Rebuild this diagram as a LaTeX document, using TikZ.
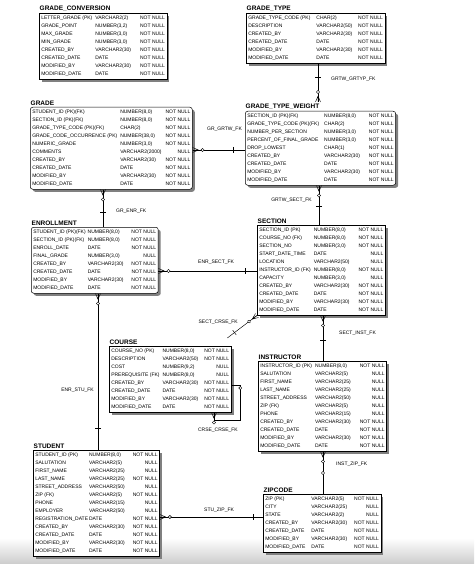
\documentclass[tikz,border=0pt]{standalone}
\usepackage{fontspec}
\setmainfont{Liberation Sans}
\usetikzlibrary{shadows, calc, positioning}

\tikzset{
  erbox/.style={draw, fill=white, line width=0.5pt, anchor=north west,
    inner xsep=2pt, inner ysep=1pt, font=\fontsize{5}{8}\selectfont,
    drop shadow={shadow xshift=2.5pt, shadow yshift=-2.5pt, fill=black!50, opacity=1}},
  dependent/.style={erbox, rounded corners=2.5pt},
  ertitle/.style={anchor=south west, inner sep=0.5pt, yshift=1pt,
    font=\fontsize{6.5}{7}\selectfont\bfseries},
  fklabel/.style={inner sep=1pt, font=\fontsize{5}{6}\selectfont},
  rel/.style={line width=0.45pt},
  alongline/.style={sloped, allow upside down},
  pics/crowsfoot/.style={code={
    \draw[rel] (6,0) -- (0,-2.5) (6,0) -- (0,0) (6,0) -- (0,2.5);
    \draw[rel, fill=white] (10,0) circle (1.6);}},
  pics/onebar/.style={code={\draw[rel] (-#1,-3) -- (-#1,3);}},
  pics/parentring/.style={code={\draw[rel, fill=white] (-#1,0) circle (1.6);}},
}

\begin{document}
\begin{tikzpicture}[x=1pt, y=-1pt]
        \useasboundingbox (0,0) rectangle (474,564);
        \shade[top color=white, bottom color=black!20] (0,538) rectangle (474,564);

        % Tables of the schema

        \node[erbox] (gradeconv) at (39,13) {\begin{tabular}{@{}l@{\hspace{3pt}}l@{\hspace{9pt}}r@{}}
          LETTER\_GRADE (PK) & VARCHAR2(2) & NOT NULL\\
          GRADE\_POINT & NUMBER(3,2) & NOT NULL\\
          MAX\_GRADE & NUMBER(3,0) & NOT NULL\\
          MIN\_GRADE & NUMBER(3,0) & NOT NULL\\
          CREATED\_BY & VARCHAR2(30) & NOT NULL\\
          CREATED\_DATE & DATE & NOT NULL\\
          MODIFIED\_BY & VARCHAR2(30) & NOT NULL\\
          MODIFIED\_DATE & DATE & NOT NULL
        \end{tabular}};
        \node[ertitle] (gradeconvtitle) at (gradeconv.north west) {GRADE\_CONVERSION};

        \node[erbox] (gradetype) at (246,13) {\begin{tabular}{@{}l@{\hspace{6pt}}l@{\hspace{6pt}}r@{}}
          GRADE\_TYPE\_CODE (PK) & CHAR(2) & NOT NULL\\
          DESCRIPTION & VARCHAR2(50) & NOT NULL\\
          CREATED\_BY & VARCHAR2(30) & NOT NULL\\
          CREATED\_DATE & DATE & NOT NULL\\
          MODIFIED\_BY & VARCHAR2(30) & NOT NULL\\
          MODIFIED\_DATE & DATE & NOT NULL
        \end{tabular}};
        \node[ertitle] (gradetypetitle) at (gradetype.north west) {GRADE\_TYPE};

        \node[dependent] (grade) at (30,107) {\begin{tabular}{@{}l@{\hspace{3pt}}l@{\hspace{4pt}}r@{}}
          STUDENT\_ID (PK)(FK) & NUMBER(8,0) & NOT NULL\\
          SECTION\_ID (PK)(FK) & NUMBER(8,0) & NOT NULL\\
          GRADE\_TYPE\_CODE (PK)(FK) & CHAR(2) & NOT NULL\\
          GRADE\_CODE\_OCCURRENCE (PK) & NUMBER(38,0) & NOT NULL\\
          NUMERIC\_GRADE & NUMBER(3,0) & NOT NULL\\
          COMMENTS & VARCHAR2(2000) & NULL\\
          CREATED\_BY & VARCHAR2(30) & NOT NULL\\
          CREATED\_DATE & DATE & NOT NULL\\
          MODIFIED\_BY & VARCHAR2(30) & NOT NULL\\
          MODIFIED\_DATE & DATE & NOT NULL
        \end{tabular}};
        \node[ertitle] (gradetitle) at (grade.north west) {GRADE};

        \node[dependent] (gtw) at (245,111) {\begin{tabular}{@{}l@{\hspace{5pt}}l@{\hspace{9pt}}r@{}}
          SECTION\_ID (PK)(FK) & NUMBER(8,0) & NOT NULL\\
          GRADE\_TYPE\_CODE (PK)(FK) & CHAR(2) & NOT NULL\\
          NUMBER\_PER\_SECTION & NUMBER(3,0) & NOT NULL\\
          PERCENT\_OF\_FINAL\_GRADE & NUMBER(3,0) & NOT NULL\\
          DROP\_LOWEST & CHAR(1) & NOT NULL\\
          CREATED\_BY & VARCHAR2(30) & NOT NULL\\
          CREATED\_DATE & DATE & NOT NULL\\
          MODIFIED\_BY & VARCHAR2(30) & NOT NULL\\
          MODIFIED\_DATE & DATE & NOT NULL
        \end{tabular}};
        \node[ertitle] (gtwtitle) at (gtw.north west) {GRADE\_TYPE\_WEIGHT};

        \node[dependent] (enrollment) at (31,227) {\begin{tabular}{@{}l@{\hspace{2pt}}l@{\hspace{8pt}}r@{}}
          STUDENT\_ID (PK)(FK) & NUMBER(8,0) & NOT NULL\\
          SECTION\_ID (PK)(FK) & NUMBER(8,0) & NOT NULL\\
          ENROLL\_DATE & DATE & NOT NULL\\
          FINAL\_GRADE & NUMBER(3,0) & NULL\\
          CREATED\_BY & VARCHAR2(30) & NOT NULL\\
          CREATED\_DATE & DATE & NOT NULL\\
          MODIFIED\_BY & VARCHAR2(30) & NOT NULL\\
          MODIFIED\_DATE & DATE & NOT NULL
        \end{tabular}};
        \node[ertitle] (enrollmenttitle) at (enrollment.north west) {ENROLLMENT};

        \node[erbox] (section) at (257,225) {\begin{tabular}{@{}l@{\hspace{3pt}}l@{\hspace{9pt}}r@{}}
          SECTION\_ID (PK) & NUMBER(8,0) & NOT NULL\\
          COURSE\_NO (FK) & NUMBER(8,0) & NOT NULL\\
          SECTION\_NO & NUMBER(3,0) & NOT NULL\\
          START\_DATE\_TIME & DATE & NULL\\
          LOCATION & VARCHAR2(50) & NULL\\
          INSTRUCTOR\_ID (FK) & NUMBER(8,0) & NOT NULL\\
          CAPACITY & NUMBER(3,0) & NULL\\
          CREATED\_BY & VARCHAR2(30) & NOT NULL\\
          CREATED\_DATE & DATE & NOT NULL\\
          MODIFIED\_BY & VARCHAR2(30) & NOT NULL\\
          MODIFIED\_DATE & DATE & NOT NULL
        \end{tabular}};
        \node[ertitle] (sectiontitle) at (section.north west) {SECTION};

        \node[erbox] (course) at (109,346) {\begin{tabular}{@{}l@{\hspace{3pt}}l@{\hspace{6pt}}r@{}}
          COURSE\_NO (PK) & NUMBER(8,0) & NOT NULL\\
          DESCRIPTION & VARCHAR2(50) & NOT NULL\\
          COST & NUMBER(9,2) & NULL\\
          PREREQUISITE (FK) & NUMBER(8,0) & NULL\\
          CREATED\_BY & VARCHAR2(30) & NOT NULL\\
          CREATED\_DATE & DATE & NOT NULL\\
          MODIFIED\_BY & VARCHAR2(30) & NOT NULL\\
          MODIFIED\_DATE & DATE & NOT NULL
        \end{tabular}};
        \node[ertitle] (coursetitle) at (course.north west) {COURSE};

        \node[erbox] (instructor) at (258,361) {\begin{tabular}{@{}l@{\hspace{3pt}}l@{\hspace{9pt}}r@{}}
          INSTRUCTOR\_ID (PK) & NUMBER(8,0) & NOT NULL\\
          SALUTATION & VARCHAR2(5) & NULL\\
          FIRST\_NAME & VARCHAR2(25) & NULL\\
          LAST\_NAME & VARCHAR2(25) & NULL\\
          STREET\_ADDRESS & VARCHAR2(50) & NULL\\
          ZIP (FK) & VARCHAR2(5) & NULL\\
          PHONE & VARCHAR2(15) & NULL\\
          CREATED\_BY & VARCHAR2(30) & NOT NULL\\
          CREATED\_DATE & DATE & NOT NULL\\
          MODIFIED\_BY & VARCHAR2(30) & NOT NULL\\
          MODIFIED\_DATE & DATE & NOT NULL
        \end{tabular}};
        \node[ertitle] (instructortitle) at (instructor.north west) {INSTRUCTOR};

        \node[erbox] (student) at (33,450) {\begin{tabular}{@{}l@{\hspace{1pt}}l@{\hspace{8pt}}r@{}}
          STUDENT\_ID (PK) & NUMBER(8,0) & NOT NULL\\
          SALUTATION & VARCHAR2(5) & NULL\\
          FIRST\_NAME & VARCHAR2(25) & NULL\\
          LAST\_NAME & VARCHAR2(25) & NOT NULL\\
          STREET\_ADDRESS & VARCHAR2(50) & NULL\\
          ZIP (FK) & VARCHAR2(5) & NOT NULL\\
          PHONE & VARCHAR2(15) & NULL\\
          EMPLOYER & VARCHAR2(50) & NULL\\
          REGISTRATION\_DATE & DATE & NOT NULL\\
          CREATED\_BY & VARCHAR2(30) & NOT NULL\\
          CREATED\_DATE & DATE & NOT NULL\\
          MODIFIED\_BY & VARCHAR2(30) & NOT NULL\\
          MODIFIED\_DATE & DATE & NOT NULL
        \end{tabular}};
        \node[ertitle] (studenttitle) at (student.north west) {STUDENT};

        \node[erbox] (zipcode) at (263,494) {\begin{tabular}{@{}l@{\hspace{6pt}}l@{\hspace{7pt}}r@{}}
          ZIP (PK) & VARCHAR2(5) & NOT NULL\\
          CITY & VARCHAR2(25) & NULL\\
          STATE & VARCHAR2(2) & NULL\\
          CREATED\_BY & VARCHAR2(30) & NOT NULL\\
          CREATED\_DATE & DATE & NOT NULL\\
          MODIFIED\_BY & VARCHAR2(30) & NOT NULL\\
          MODIFIED\_DATE & DATE & NOT NULL
        \end{tabular}};
        \node[ertitle] (zipcodetitle) at (zipcode.north west) {ZIPCODE};

        % Foreign keys, crow's foot at the child table

        \coordinate (grtwgrtyp) at (318,102);
        \draw[rel] (grtwgrtyp) -- (gradetype.south -| grtwgrtyp)
          pic[pos=0, alongline]{crowsfoot} pic[pos=1, alongline]{onebar=14};
        \node[fklabel, anchor=west] (grtwgrtyplabel) at (330,79) {GRTW\_GRTYP\_FK};

        \coordinate (grgrtw) at ($(grade.north east)+(0,43)$);
        \draw[rel] (grgrtw) -- (gtw.west |- grgrtw)
          pic[pos=0, alongline]{crowsfoot} pic[pos=1, alongline]{onebar=12};
        \node[fklabel, anchor=west] (grgrtwlabel) at (206,129) {GR\_GRTW\_FK};

        \coordinate (grenr) at ($(grade.south west)+(73,0)$);
        \draw[rel] (grenr) -- (enrollment.north -| grenr)
          pic[pos=0, alongline]{crowsfoot} pic[pos=1, alongline]{onebar=15};
        \node[fklabel, anchor=west] (grenrlabel) at (115,211) {GR\_ENR\_FK};

        \coordinate (grtwsect) at ($(gtw.south west)+(74,0)$);
        \draw[rel] (grtwsect) -- (section.north -| grtwsect)
          pic[pos=0, alongline]{crowsfoot} pic[pos=1, alongline]{onebar=19};
        \node[fklabel, anchor=east] (grtwsectlabel) at (313,200) {GRTW\_SECT\_FK};

        \coordinate (enrsect) at ($(enrollment.north east)+(0,44)$);
        \draw[rel] (enrsect) -- (section.west |- enrsect)
          pic[pos=0, alongline]{crowsfoot} pic[pos=1, alongline]{onebar=12};
        \node[fklabel, anchor=west] (enrsectlabel) at (197,262) {ENR\_SECT\_FK};

        \coordinate (sectcrse) at ($(course.north east)+(-4,-8)$);
        \draw[rel] (section.south west) -- (sectcrse)
          pic[pos=0, alongline]{crowsfoot} pic[pos=1, alongline]{onebar=9};
        \node[fklabel, anchor=east] (sectcrselabel) at (239,322) {SECT\_CRSE\_FK};

        \coordinate (sectinst) at ($(section.south west)+(66,0)$);
        \draw[rel] (sectinst) -- (instructor.north -| sectinst)
          pic[pos=0, alongline]{crowsfoot} pic[pos=1, alongline]{onebar=21};
        \node[fklabel, anchor=west] (sectinstlabel) at (338,333) {SECT\_INST\_FK};

        \coordinate (enrstu) at ($(enrollment.south west)+(67,0)$);
        \draw[rel] (enrstu) -- (student.north -| enrstu)
          pic[pos=0, alongline]{crowsfoot} pic[pos=1, alongline]{onebar=22};
        \node[fklabel, anchor=east] (enrstulabel) at (95,390) {ENR\_STU\_FK};

        \coordinate (crsechild) at ($(course.south west)+(105,0)$);
        \coordinate (crseparent) at ($(course.north east)+(0,39)$);
        \draw[rel] (crsechild) -- ++(0,8) pic[pos=0, alongline]{crowsfoot}
          -| ($(crseparent)+(9,0)$) pic[pos=1, alongline]{parentring=3} -- (crseparent);
        \node[fklabel, anchor=east] (crsecrselabel) at (239,430) {CRSE\_CRSE\_FK};

        \coordinate (instzip) at ($(instructor.south west)+(65,0)$);
        \draw[rel] (instzip) -- (zipcode.north -| instzip)
          pic[pos=0, alongline]{crowsfoot} pic[pos=1, alongline]{parentring=21};
        \node[fklabel, anchor=west] (instziplabel) at (335,464) {INST\_ZIP\_FK};

        \coordinate (stuzip) at ($(student.north east)+(0,67)$);
        \draw[rel] (stuzip) -- (zipcode.west |- stuzip)
          pic[pos=0, alongline]{crowsfoot} pic[pos=1, alongline]{onebar=10};
        \node[fklabel, anchor=west] (stuziplabel) at (203,510) {STU\_ZIP\_FK};
    \end{tikzpicture}
\end{document}
